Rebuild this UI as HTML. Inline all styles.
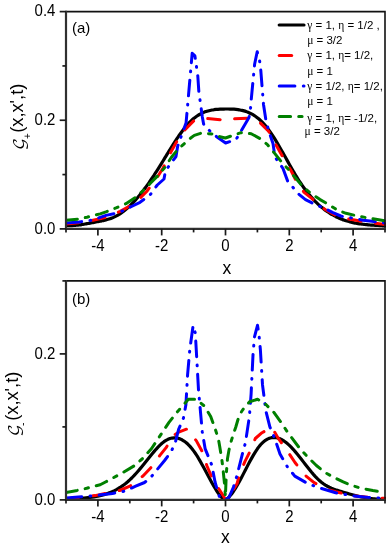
<!DOCTYPE html>
<html><head><meta charset="utf-8"><title>G plot</title>
<style>
html,body{margin:0;padding:0;background:#fff;}
body{width:392px;height:550px;overflow:hidden;}
svg{display:block;}
.t{font-family:"Liberation Sans",Arial,sans-serif;font-size:15px;fill:#000;}
.l{font-family:"Liberation Sans",Arial,sans-serif;font-size:11.5px;fill:#000;}
.l .g{font-family:"Liberation Serif","DejaVu Serif",serif;}
.ttl{font-family:"Liberation Sans",Arial,sans-serif;font-size:17.5px;fill:#000;}
.cal{font-family:"DejaVu Math TeX Gyre","DejaVu Serif",serif;}
.sub{font-size:10px;}
.pl{font-family:"Liberation Sans",Arial,sans-serif;font-size:15px;fill:#000;}
</style></head>
<body>
<svg width="392" height="550" viewBox="0 0 392 550">
<defs>
<clipPath id="ca"><rect x="66" y="0" width="320" height="229"/></clipPath>
<clipPath id="cb"><rect x="66" y="270" width="320" height="231"/></clipPath>
</defs>
<g fill="none" stroke-linecap="round" stroke-linejoin="round" clip-path="url(#ca)">
<path d="M66,225.6 C66.33,225.61 67.33,225.64 68,225.65 C68.67,225.65 69.33,225.65 70,225.63 C70.67,225.62 71.33,225.59 72,225.56 C72.67,225.53 73.33,225.49 74,225.44 C74.67,225.39 75.33,225.33 76,225.27 C76.67,225.21 77.33,225.13 78,225.06 C78.67,224.98 79.33,224.89 80,224.81 C80.67,224.72 81.33,224.62 82,224.52 C82.67,224.42 83.33,224.31 84,224.21 C84.67,224.1 85.33,223.98 86,223.87 C86.67,223.75 87.33,223.63 88,223.51 C88.67,223.39 89.33,223.26 90,223.14 C90.67,223.01 91.33,222.88 92,222.75 C92.67,222.62 93.33,222.49 94,222.36 C94.67,222.23 95.33,222.1 96,221.97 C96.67,221.84 97.33,221.71 98,221.58 C98.67,221.45 99.33,221.32 100,221.19 C100.67,221.06 101.33,220.92 102,220.78 C102.67,220.63 103.33,220.49 104,220.33 C104.67,220.17 105.33,220.01 106,219.84 C106.67,219.66 107.33,219.48 108,219.28 C108.67,219.08 109.33,218.87 110,218.64 C110.67,218.42 111.33,218.18 112,217.92 C112.67,217.66 113.33,217.39 114,217.09 C114.67,216.79 115.33,216.48 116,216.14 C116.67,215.8 117.33,215.44 118,215.06 C118.67,214.67 119.33,214.27 120,213.83 C120.67,213.4 121.33,212.95 122,212.47 C122.67,212 123.33,211.5 124,210.98 C124.67,210.46 125.33,209.91 126,209.35 C126.67,208.79 127.33,208.2 128,207.6 C128.67,206.99 129.33,206.37 130,205.72 C130.67,205.08 131.33,204.41 132,203.73 C132.67,203.05 133.33,202.35 134,201.63 C134.67,200.91 135.33,200.17 136,199.41 C136.67,198.66 137.33,197.88 138,197.09 C138.67,196.3 139.33,195.5 140,194.67 C140.67,193.85 141.33,193.01 142,192.16 C142.67,191.3 143.33,190.43 144,189.55 C144.67,188.66 145.33,187.76 146,186.85 C146.67,185.94 147.33,185.01 148,184.07 C148.67,183.13 149.33,182.17 150,181.21 C150.67,180.24 151.33,179.26 152,178.27 C152.67,177.28 153.33,176.27 154,175.26 C154.67,174.24 155.33,173.22 156,172.18 C156.67,171.14 157.33,170.1 158,169.04 C158.67,167.98 159.33,166.91 160,165.84 C160.67,164.77 161.33,163.68 162,162.6 C162.67,161.51 163.33,160.42 164,159.33 C164.67,158.24 165.33,157.14 166,156.05 C166.67,154.96 167.33,153.87 168,152.78 C168.67,151.69 169.33,150.61 170,149.53 C170.67,148.46 171.33,147.38 172,146.32 C172.67,145.26 173.33,144.21 174,143.17 C174.67,142.13 175.33,141.1 176,140.09 C176.67,139.08 177.33,138.08 178,137.1 C178.67,136.12 179.33,135.15 180,134.21 C180.67,133.27 181.33,132.35 182,131.45 C182.67,130.55 183.33,129.67 184,128.82 C184.67,127.97 185.33,127.15 186,126.35 C186.67,125.56 187.33,124.79 188,124.05 C188.67,123.31 189.33,122.61 190,121.94 C190.67,121.27 191.33,120.63 192,120.03 C192.67,119.42 193.33,118.85 194,118.31 C194.67,117.78 195.33,117.27 196,116.79 C196.67,116.31 197.33,115.86 198,115.44 C198.67,115.02 199.33,114.63 200,114.26 C200.67,113.89 201.33,113.55 202,113.23 C202.67,112.92 203.33,112.62 204,112.35 C204.67,112.08 205.33,111.83 206,111.6 C206.67,111.37 207.33,111.16 208,110.97 C208.67,110.78 209.33,110.61 210,110.46 C210.67,110.3 211.33,110.16 212,110.04 C212.67,109.92 213.33,109.81 214,109.71 C214.67,109.62 215.33,109.53 216,109.46 C216.67,109.39 217.33,109.33 218,109.28 C218.67,109.23 219.33,109.19 220,109.15 C220.67,109.12 221.33,109.09 222,109.07 C222.67,109.05 223.33,109.04 224,109.03 C224.67,109.01 225.33,109.01 226,109 C226.67,109 227.33,109 228,109 C228.67,109 229.33,109.01 230,109.03 C230.67,109.04 231.33,109.06 232,109.09 C232.67,109.12 233.33,109.16 234,109.21 C234.67,109.26 235.33,109.31 236,109.38 C236.67,109.45 237.33,109.53 238,109.63 C238.67,109.73 239.33,109.83 240,109.96 C240.67,110.08 241.33,110.22 242,110.38 C242.67,110.54 243.33,110.71 244,110.9 C244.67,111.09 245.33,111.3 246,111.54 C246.67,111.77 247.33,112.02 248,112.3 C248.67,112.57 249.33,112.87 250,113.19 C250.67,113.51 251.33,113.85 252,114.22 C252.67,114.59 253.33,114.99 254,115.41 C254.67,115.84 255.33,116.29 256,116.77 C256.67,117.25 257.33,117.76 258,118.3 C258.67,118.84 259.33,119.41 260,120.02 C260.67,120.62 261.33,121.26 262,121.93 C262.67,122.6 263.33,123.31 264,124.05 C264.67,124.79 265.33,125.57 266,126.39 C266.67,127.2 267.33,128.06 268,128.94 C268.67,129.83 269.33,130.75 270,131.7 C270.67,132.65 271.33,133.63 272,134.63 C272.67,135.64 273.33,136.67 274,137.72 C274.67,138.78 275.33,139.85 276,140.95 C276.67,142.04 277.33,143.16 278,144.29 C278.67,145.42 279.33,146.56 280,147.72 C280.67,148.87 281.33,150.04 282,151.21 C282.67,152.39 283.33,153.57 284,154.76 C284.67,155.94 285.33,157.14 286,158.32 C286.67,159.51 287.33,160.71 288,161.9 C288.67,163.08 289.33,164.27 290,165.45 C290.67,166.62 291.33,167.8 292,168.96 C292.67,170.11 293.33,171.27 294,172.4 C294.67,173.53 295.33,174.66 296,175.76 C296.67,176.86 297.33,177.95 298,179.01 C298.67,180.07 299.33,181.12 300,182.13 C300.67,183.15 301.33,184.14 302,185.11 C302.67,186.08 303.33,187.02 304,187.94 C304.67,188.86 305.33,189.76 306,190.63 C306.67,191.51 307.33,192.36 308,193.19 C308.67,194.02 309.33,194.83 310,195.61 C310.67,196.4 311.33,197.16 312,197.9 C312.67,198.65 313.33,199.37 314,200.07 C314.67,200.77 315.33,201.46 316,202.12 C316.67,202.78 317.33,203.42 318,204.05 C318.67,204.67 319.33,205.27 320,205.86 C320.67,206.44 321.33,207.01 322,207.56 C322.67,208.11 323.33,208.64 324,209.16 C324.67,209.67 325.33,210.17 326,210.65 C326.67,211.13 327.33,211.59 328,212.04 C328.67,212.49 329.33,212.92 330,213.34 C330.67,213.76 331.33,214.16 332,214.55 C332.67,214.93 333.33,215.31 334,215.66 C334.67,216.02 335.33,216.37 336,216.7 C336.67,217.03 337.33,217.35 338,217.65 C338.67,217.95 339.33,218.25 340,218.53 C340.67,218.81 341.33,219.07 342,219.33 C342.67,219.58 343.33,219.83 344,220.06 C344.67,220.29 345.33,220.52 346,220.73 C346.67,220.94 347.33,221.14 348,221.33 C348.67,221.53 349.33,221.71 350,221.88 C350.67,222.05 351.33,222.22 352,222.37 C352.67,222.53 353.33,222.68 354,222.82 C354.67,222.96 355.33,223.09 356,223.21 C356.67,223.34 357.33,223.45 358,223.56 C358.67,223.67 359.33,223.78 360,223.88 C360.67,223.97 361.33,224.07 362,224.15 C362.67,224.24 363.33,224.32 364,224.4 C364.67,224.47 365.33,224.54 366,224.61 C366.67,224.68 367.33,224.74 368,224.8 C368.67,224.86 369.33,224.92 370,224.98 C370.67,225.03 371.33,225.08 372,225.13 C372.67,225.18 373.33,225.22 374,225.27 C374.67,225.31 375.33,225.36 376,225.4 C376.67,225.44 377.33,225.48 378,225.52 C378.67,225.57 379.33,225.61 380,225.65 C380.67,225.69 381.33,225.73 382,225.77 C382.67,225.81 383.5,225.87 384,225.9 C384.5,225.93 384.83,225.96 385,225.97" stroke="#000" stroke-width="3.2"/>
<path d="M66,224 L80,222.5 L93,220.3 L106,217.4 L112,215 L120.2,211.4 L130.1,205.8 L138.5,199.5 L146.7,191.5 L156.7,178.2 L163.1,168 L170.1,153.4 L176.5,142 L184.1,130.5 L193.4,121.1 L199,119 L206.8,118.5 L215,119.3 L221.4,119.8 L225.4,119.8 L233.7,118.9 L248.3,118.2 L254,119.5 L259.9,122.5 L268.6,131.3 L276.5,145.8 L282.3,156 L291,170.5 L295.4,179.3 L304.1,192.4 L311.4,198.2 L325,209.5 L336.1,215.5 L346,218.6 L356,220.3 L366,222 L385,224.4" stroke="#f00" stroke-width="3" stroke-dasharray="12.5 14.5" stroke-dashoffset="0"/>
<path d="M66,223 L79.3,222 L87,220.8 L93,220 L106,215.4 L114.6,213.5 L123,210.7 L131.5,206.5 L140,202.3 L150,195 L157.3,185 L164,179 L165.6,170.5 L176,156.5 L177.6,146.5 L186.1,122.7 L192.2,53.2 L194.9,55.9 L197.8,76 L198.9,92.4 L200.5,103.3 L202.2,116.3 L203.6,124.1 L205.9,127.3 L213.6,134.5 L225.6,143 L236,139.6 L249,117.6 L250.5,108.7 L251.2,100 L254.6,64.3 L257.2,51.7 L259.5,60 L260.7,69.2 L263.5,104.4 L265.7,118.9 L268.6,130.5 L273,143.6 L275,157 L283,168.5 L287.8,181.5 L299,194.3 L305.5,199.6 L314.3,204 L324.5,208.4 L332.9,212.7 L340.8,216 L346,217.2 L354,218.2 L363,220.2 L372,221.3 L385,223" stroke="#00f" stroke-width="3" stroke-dasharray="15.7 8.4 0.8 8.4" stroke-dashoffset="0"/>
<path d="M66,220.3 L78,219.2 L87,217.2 L95.6,214.9 L100.2,213.9 L106,211.8 L116,207.9 L125.9,203.7 L135.7,197.3 L142.7,191 L150.4,183.3 L156.7,176.9 L164.4,168 L171.4,157.3 L177.7,149.6 L184.1,143.9 L190.7,138 L194.3,135.4 L201.4,133.1 L213.6,134.1 L220,136.8 L225.4,138 L232.3,135.6 L241,132.7 L251.2,133.7 L259.9,138.5 L267.2,144.4 L274.5,153.1 L280.8,161.1 L288.1,169.1 L295.4,177.8 L302.6,186.5 L311.4,193.8 L320.1,199.6 L328.8,204.7 L337.7,210.3 L346,213.3 L357.2,215.9 L370.5,218.4 L381.7,220.3 L385,220.8" stroke="#008000" stroke-width="3" stroke-dasharray="11.4 8.1 3.4 8.1" stroke-dashoffset="0"/>
</g>
<g fill="none" stroke-linecap="round" stroke-linejoin="round" clip-path="url(#cb)">
<path d="M66,499.45 L68,499.25 L70,499.07 L72,498.91 L74,498.76 L76,498.62 L78,498.48 L80,498.34 L82,498.19 L84,498.03 L86,497.85 L88,497.65 L90,497.43 L92,497.17 L94,496.88 L96,496.54 L98,496.16 L100,495.72 L102,495.23 L104,494.68 L106,494.06 L108,493.37 L110,492.61 L112,491.76 L114,490.83 L116,489.8 L118,488.68 L120,487.47 L122,486.14 L124,484.7 L126,483.15 L128,481.48 L130,479.68 L132,477.76 L134,475.7 L136,473.52 L138,471.25 L140,468.89 L142,466.47 L144,464.01 L146,461.51 L148,459.01 L150,456.51 L152,454.04 L154,451.63 L156,449.31 L158,447.12 L160,445.1 L162,443.28 L164,441.69 L166,440.37 L168,439.33 L170,438.56 L172,438.07 L174,437.86 L176,437.92 L178,438.27 L180,438.9 L182,439.82 L184,441.02 L186,442.5 L188,444.28 L190,446.34 L192,448.69 L194,451.34 L196,454.27 L198,457.46 L200,460.86 L202,464.43 L204,468.1 L206,471.83 L208,475.59 L210,479.31 L212,482.95 L214,486.45 L216,489.77 L218,492.83 L220,495.53 L222,497.81 L224,499.58 L225.4,499.6 L227.4,498.54 L229.4,496.59 L231.4,494.2 L233.4,491.44 L235.4,488.35 L237.4,485 L239.4,481.43 L241.4,477.7 L243.4,473.87 L245.4,470 L247.4,466.13 L249.4,462.32 L251.4,458.62 L253.4,455.1 L255.4,451.81 L257.4,448.79 L259.4,446.11 L261.4,443.81 L263.4,441.89 L265.4,440.33 L267.4,439.12 L269.4,438.25 L271.4,437.71 L273.4,437.48 L275.4,437.55 L277.4,437.91 L279.4,438.55 L281.4,439.44 L283.4,440.59 L285.4,441.97 L287.4,443.58 L289.4,445.39 L291.4,447.39 L293.4,449.56 L295.4,451.86 L297.4,454.26 L299.4,456.76 L301.4,459.31 L303.4,461.89 L305.4,464.48 L307.4,467.04 L309.4,469.56 L311.4,472.02 L313.4,474.37 L315.4,476.6 L317.4,478.68 L319.4,480.58 L321.4,482.28 L323.4,483.78 L325.4,485.1 L327.4,486.25 L329.4,487.26 L331.4,488.16 L333.4,488.95 L335.4,489.67 L337.4,490.33 L339.4,490.97 L341.4,491.58 L343.4,492.19 L345.4,492.79 L347.4,493.37 L349.4,493.93 L351.4,494.48 L353.4,495 L355.4,495.51 L357.4,495.99 L359.4,496.45 L361.4,496.87 L363.4,497.27 L365.4,497.64 L367.4,497.98 L369.4,498.28 L371.4,498.54 L373.4,498.76 L375.4,498.95 L377.4,499.09 L379.4,499.19 L381.4,499.24 L383.4,499.24 L385,499.21" stroke="#000" stroke-width="3.2"/>
<path d="M66,499 L95,495.6 L119.7,490.5 L129.9,486.2 L143,476 L151.5,467 L159.7,455.6 L166.3,447.4 L172.8,435.9 L179.4,431.8 L187,429 L196.4,440.9 L202.5,452.1 L207,466 L212.1,477.9 L218.8,488.8 L223.9,496.8 L225.4,499.9 L229,497 L237,483.8 L239.9,473.1 L245,461.4 L251.6,448.3 L255.3,438.5 L262,432.7 L269.3,428.7 L272,427.5 L278,437.9 L286.5,449.8 L295,462.5 L303.9,474.3 L314.1,482.6 L325.6,489 L335.7,491.8 L353,495.9 L368.3,497.4 L385,498.3" stroke="#f00" stroke-width="3" stroke-dasharray="12.5 14.5" stroke-dashoffset="0"/>
<path d="M66,498 L95,495.6 L112.5,493.5 L124.1,491.3 L135.7,486.2 L144.5,482.5 L149.9,478.5 L156.5,470.3 L164.6,460.5 L171.2,451.5 L175.3,442.5 L178.6,429.4 L183.5,417.9 L185.9,404.8 L187.6,374.7 L189.8,349.6 L193.1,325.6 L195.3,333 L196.9,361.1 L198.5,390 L202.3,432 L205.1,448.6 L211.6,464.6 L213.5,474 L215.1,482.3 L219.3,496.5 L222.5,499 L225.4,499.5 L228.7,498 L233.4,487.3 L237,475.5 L242.9,451.8 L245.4,443 L249.4,416.5 L251.1,394.1 L253.1,352.9 L254.5,336.9 L257.5,325.3 L258.9,334 L260.4,350 L262.5,384.9 L263.7,394 L265.7,410.4 L269.8,426.7 L274.9,438.9 L280,454 L287.4,466.8 L294.8,476.1 L306,482.6 L317.1,487.2 L335.7,492.8 L353,495.9 L368.3,497.4 L385,498.3" stroke="#00f" stroke-width="3" stroke-dasharray="15.7 8.4 0.8 8.4" stroke-dashoffset="0"/>
<path d="M66,492.4 L77.2,490.4 L86.7,488.3 L95.6,485.8 L100.2,484.8 L106,481.7 L112.5,478.2 L122.9,472.6 L134.4,465.7 L142.1,459 L151.6,448.5 L161.2,434.1 L168.8,422.6 L174,416 L177.7,411.4 L184.3,404 L188.3,399.2 L196.4,399.2 L204.6,406.3 L210.7,416.5 L215.8,430.7 L218.6,440 L219.8,447.1 L221.6,457.8 L222.8,467.2 L223.9,477.9 L225.1,489.7 L225.3,497 L225.4,496.8 L226,481.4 L226.6,470 L227.5,458.5 L229,450 L231.5,440.1 L233.6,433.5 L235.8,427 L238,419.5 L241.6,411.5 L244.5,407.4 L249.6,401.8 L257.6,399.2 L265.7,404.3 L273.9,412.4 L282,423.6 L287.4,432 L299.8,448.5 L308.1,457.4 L316.4,465.5 L324.1,471.9 L333,477 L343.2,481.9 L350,484.8 L360.6,488.2 L372.9,490.5 L382.8,492.1 L385,492.3" stroke="#008000" stroke-width="3" stroke-dasharray="11.4 8.1 3.4 8.1" stroke-dashoffset="0"/>
</g>
<g fill="none" stroke-linecap="round">
<line x1="279.2" y1="25" x2="304" y2="25" stroke="#000" stroke-width="3.2"/>
<line x1="279.2" y1="55.5" x2="304" y2="55.5" stroke="#f00" stroke-width="3" stroke-dasharray="12.5 14.5"/>
<line x1="279.2" y1="86" x2="304" y2="86" stroke="#00f" stroke-width="3" stroke-dasharray="15.7 8.4 0.8 8.4"/>
<line x1="279.2" y1="116.5" x2="304" y2="116.5" stroke="#008000" stroke-width="3" stroke-dasharray="11.4 8.1 3.4 8.1"/>
</g>
<text class="l" x="307.2" y="29.3"><tspan class="g">γ</tspan> = 1, <tspan class="g">η</tspan> = 1/2 ,</text>
<text class="l" x="307.2" y="43.6"><tspan class="g">μ</tspan> = 3/2</text>
<text class="l" x="307.2" y="59.4"><tspan class="g">γ</tspan> = 1, <tspan class="g">η</tspan>= 1/2,</text>
<text class="l" x="307.2" y="74.6"><tspan class="g">μ</tspan> = 1</text>
<text class="l" x="307.2" y="89.5"><tspan class="g">γ</tspan> = 1/2, <tspan class="g">η</tspan>= 1/2,</text>
<text class="l" x="307.2" y="104.9"><tspan class="g">μ</tspan> = 1</text>
<text class="l" x="307.2" y="121.5"><tspan class="g">γ</tspan> = 1, <tspan class="g">η</tspan>= -1/2,</text>
<text class="l" x="304.6" y="135.3"><tspan class="g">μ</tspan> = 3/2</text>
<path d="M66.0,11.6 H385.0 V228.9" stroke="#111" stroke-width="1.6" fill="none"/>
<path d="M66.0,10.799999999999999 V228.9 H385.8" stroke="#303030" stroke-width="2.2" fill="none"/>
<line x1="66" y1="228.9" x2="66" y2="232.4" stroke="#1a1a1a" stroke-width="1.7"/>
<line x1="97.9" y1="228.9" x2="97.9" y2="235.4" stroke="#1a1a1a" stroke-width="1.7"/>
<line x1="129.8" y1="228.9" x2="129.8" y2="232.4" stroke="#1a1a1a" stroke-width="1.7"/>
<line x1="161.7" y1="228.9" x2="161.7" y2="235.4" stroke="#1a1a1a" stroke-width="1.7"/>
<line x1="193.6" y1="228.9" x2="193.6" y2="232.4" stroke="#1a1a1a" stroke-width="1.7"/>
<line x1="225.5" y1="228.9" x2="225.5" y2="235.4" stroke="#1a1a1a" stroke-width="1.7"/>
<line x1="257.4" y1="228.9" x2="257.4" y2="232.4" stroke="#1a1a1a" stroke-width="1.7"/>
<line x1="289.3" y1="228.9" x2="289.3" y2="235.4" stroke="#1a1a1a" stroke-width="1.7"/>
<line x1="321.2" y1="228.9" x2="321.2" y2="232.4" stroke="#1a1a1a" stroke-width="1.7"/>
<line x1="353.1" y1="228.9" x2="353.1" y2="235.4" stroke="#1a1a1a" stroke-width="1.7"/>
<line x1="385" y1="228.9" x2="385" y2="232.4" stroke="#1a1a1a" stroke-width="1.7"/>
<line x1="59.7" y1="228.9" x2="66.0" y2="228.9" stroke="#1a1a1a" stroke-width="1.7"/>
<line x1="59.7" y1="120.25" x2="66.0" y2="120.25" stroke="#1a1a1a" stroke-width="1.7"/>
<line x1="59.7" y1="11.6" x2="66.0" y2="11.6" stroke="#1a1a1a" stroke-width="1.7"/>
<line x1="62.4" y1="174.57" x2="66.0" y2="174.57" stroke="#1a1a1a" stroke-width="1.7"/>
<line x1="62.4" y1="65.93" x2="66.0" y2="65.93" stroke="#1a1a1a" stroke-width="1.7"/>
<text class="t" transform="translate(97.9,251.2) scale(1,1.1)" text-anchor="middle">-4</text>
<text class="t" transform="translate(161.7,251.2) scale(1,1.1)" text-anchor="middle">-2</text>
<text class="t" transform="translate(225.5,251.2) scale(1,1.1)" text-anchor="middle">0</text>
<text class="t" transform="translate(289.3,251.2) scale(1,1.1)" text-anchor="middle">2</text>
<text class="t" transform="translate(353.1,251.2) scale(1,1.1)" text-anchor="middle">4</text>
<text class="t" transform="translate(55.4,16.4) scale(1,1.1)" text-anchor="end">0.4</text>
<text class="t" transform="translate(55.4,125.05) scale(1,1.1)" text-anchor="end">0.2</text>
<text class="t" transform="translate(55.4,233.7) scale(1,1.1)" text-anchor="end">0.0</text>
<path d="M66.0,280.9 H385.0 V499.9" stroke="#111" stroke-width="1.6" fill="none"/>
<path d="M66.0,280.09999999999997 V499.9 H385.8" stroke="#303030" stroke-width="2.2" fill="none"/>
<line x1="66" y1="499.9" x2="66" y2="503.4" stroke="#1a1a1a" stroke-width="1.7"/>
<line x1="97.9" y1="499.9" x2="97.9" y2="506.4" stroke="#1a1a1a" stroke-width="1.7"/>
<line x1="129.8" y1="499.9" x2="129.8" y2="503.4" stroke="#1a1a1a" stroke-width="1.7"/>
<line x1="161.7" y1="499.9" x2="161.7" y2="506.4" stroke="#1a1a1a" stroke-width="1.7"/>
<line x1="193.6" y1="499.9" x2="193.6" y2="503.4" stroke="#1a1a1a" stroke-width="1.7"/>
<line x1="225.5" y1="499.9" x2="225.5" y2="506.4" stroke="#1a1a1a" stroke-width="1.7"/>
<line x1="257.4" y1="499.9" x2="257.4" y2="503.4" stroke="#1a1a1a" stroke-width="1.7"/>
<line x1="289.3" y1="499.9" x2="289.3" y2="506.4" stroke="#1a1a1a" stroke-width="1.7"/>
<line x1="321.2" y1="499.9" x2="321.2" y2="503.4" stroke="#1a1a1a" stroke-width="1.7"/>
<line x1="353.1" y1="499.9" x2="353.1" y2="506.4" stroke="#1a1a1a" stroke-width="1.7"/>
<line x1="385" y1="499.9" x2="385" y2="503.4" stroke="#1a1a1a" stroke-width="1.7"/>
<line x1="59.7" y1="499.9" x2="66.0" y2="499.9" stroke="#1a1a1a" stroke-width="1.7"/>
<line x1="59.7" y1="353.9" x2="66.0" y2="353.9" stroke="#1a1a1a" stroke-width="1.7"/>
<line x1="62.4" y1="426.9" x2="66.0" y2="426.9" stroke="#1a1a1a" stroke-width="1.7"/>
<line x1="62.4" y1="280.9" x2="66.0" y2="280.9" stroke="#1a1a1a" stroke-width="1.7"/>
<text class="t" transform="translate(97.9,522.2) scale(1,1.1)" text-anchor="middle">-4</text>
<text class="t" transform="translate(161.7,522.2) scale(1,1.1)" text-anchor="middle">-2</text>
<text class="t" transform="translate(225.5,522.2) scale(1,1.1)" text-anchor="middle">0</text>
<text class="t" transform="translate(289.3,522.2) scale(1,1.1)" text-anchor="middle">2</text>
<text class="t" transform="translate(353.1,522.2) scale(1,1.1)" text-anchor="middle">4</text>
<text class="t" transform="translate(55.4,358.7) scale(1,1.1)" text-anchor="end">0.2</text>
<text class="t" transform="translate(55.4,504.7) scale(1,1.1)" text-anchor="end">0.0</text>
<text class="pl" x="71.9" y="33">(a)</text>
<text class="pl" x="71.9" y="304">(b)</text>
<text class="ttl" x="226.8" y="273.8" text-anchor="middle">x</text>
<text class="ttl" x="225.3" y="543.3" text-anchor="middle">x</text>
<text class="ttl" transform="translate(23,132.8) rotate(-90) scale(1.045,1)">(x,x',t)</text>
<text class="ttl sub" transform="translate(31.3,139) rotate(-90)">+</text>
<text class="ttl cal" transform="translate(24,150.3) rotate(-90) scale(1.13,1)" style="font-size:14.5px">&#x1D4A2;</text>
<text class="ttl" transform="translate(18,420.8) rotate(-90) scale(1.045,1)">(x,x',t)</text>
<text class="ttl sub" transform="translate(26,426) rotate(-90)">-</text>
<text class="ttl cal" transform="translate(19.2,436.4) rotate(-90) scale(1.13,1)" style="font-size:14.5px">&#x1D4A2;</text>
</svg>
</body></html>
